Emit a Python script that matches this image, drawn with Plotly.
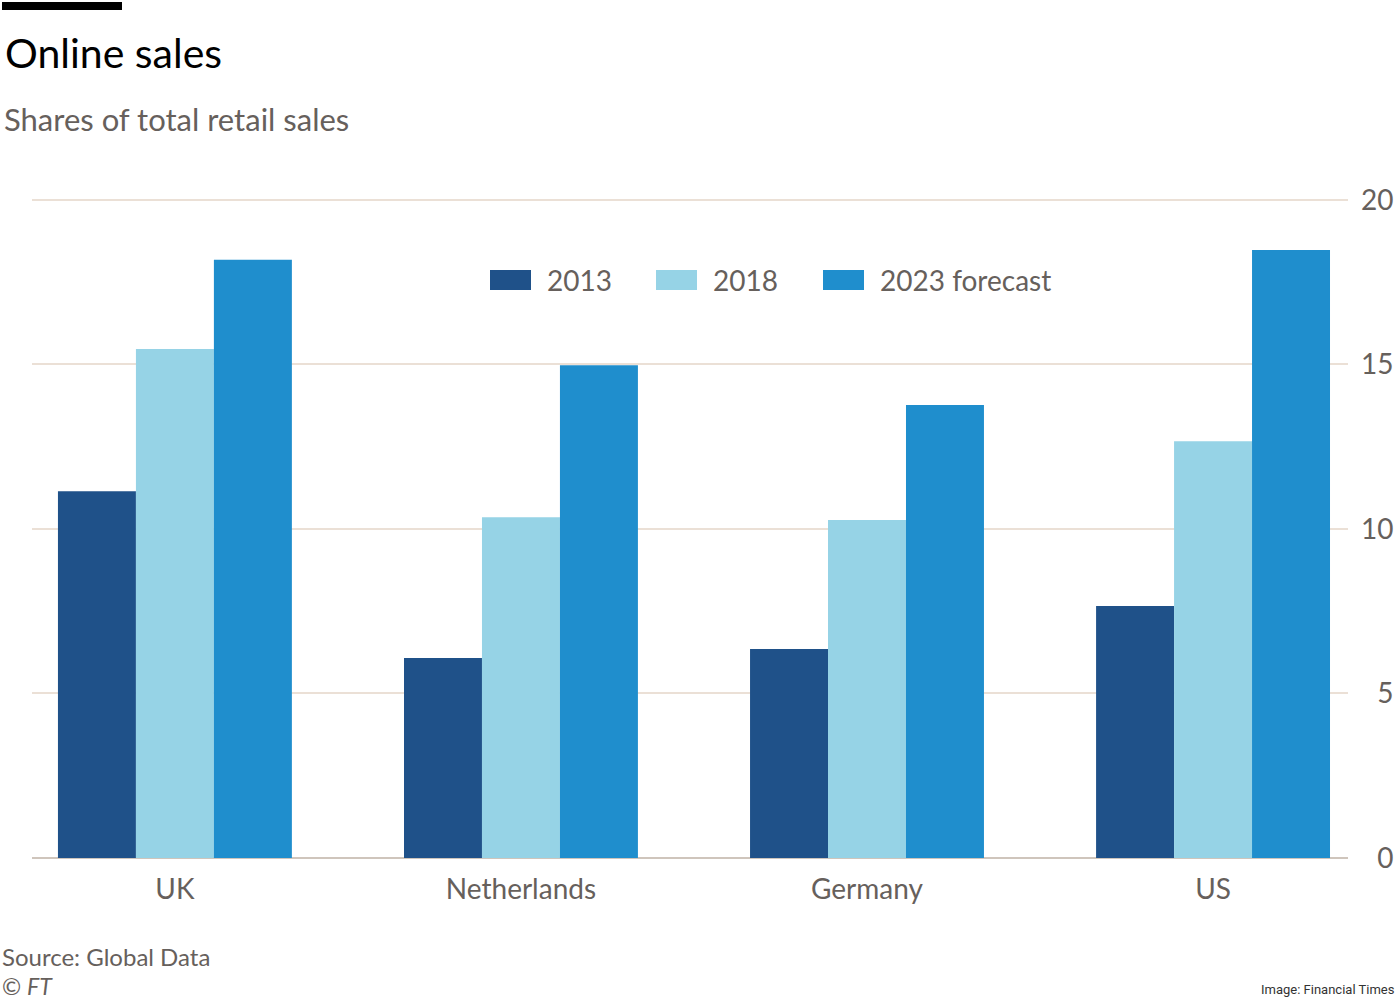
import plotly.graph_objects as go

countries = ["UK", "Netherlands", "Germany", "US"]
series_names = ["2013", "2018", "2023 forecast"]
v2013 = [11.15, 6.08, 6.35, 7.66]
v2018 = [15.47, 10.36, 10.27, 12.67]
v2023 = [18.18, 14.98, 13.77, 18.48]
colors = ["#1f5189", "#96d3e6", "#1f8ecd"]
ytick_vals = [0, 5, 10, 15, 20]
ytick_text = ["\u2007" + "0", "\u2007" + "5", "10", "15", "20"]

FONT = "Lato"
GREY = "#66605c"

W, H = 1400, 1001
L, R, T, B = 32, 52, 198, 143
PW, PH = W - L - R, H - T - B

def px(x):
    return (x - L) / PW

def py(y):
    return (H - B - y) / PH

fig = go.Figure()
for name, vals, col in zip(series_names, [v2013, v2018, v2023], colors):
    fig.add_trace(go.Bar(x=countries, y=vals, name=name, marker_color=col,
                         marker_line_width=0, showlegend=False))

fig.update_layout(
    width=W, height=H,
    margin=dict(l=L, r=R, t=T, b=B, autoexpand=False),
    paper_bgcolor="white", plot_bgcolor="white",
    barmode="group", bargap=0.324, bargroupgap=0,
    font=dict(family=FONT, color=GREY),
    showlegend=False,
)
fig.update_xaxes(range=[-0.413, 3.39], showgrid=False, showline=False,
                 ticks="", tickfont=dict(size=28, color=GREY, family=FONT),
                 ticklabelstandoff=12, automargin=False)
fig.update_yaxes(range=[0, 20.06], side="right", tickvals=ytick_vals, ticktext=ytick_text,
                 showgrid=True, gridcolor="#ebe0d6", gridwidth=2,
                 zeroline=True, zerolinecolor="#cfc5bc", zerolinewidth=2,
                 showline=False, ticks="", layer="below traces",
                 tickfont=dict(size=28, color=GREY, family=FONT),
                 ticklabelstandoff=12, automargin=False)

# Top black bar
fig.add_shape(type="rect", xref="paper", yref="paper",
              x0=px(2), x1=px(122), y0=py(10), y1=py(2),
              fillcolor="black", line_width=0)

# Title and subtitle
fig.add_annotation(text="Online sales", xref="paper", yref="paper",
                   x=px(3), y=py(52), xanchor="left", yanchor="middle",
                   showarrow=False, font=dict(size=41, color="black", family=FONT))
fig.add_annotation(text="Shares of total retail sales", xref="paper", yref="paper",
                   x=px(2), y=py(119), xanchor="left", yanchor="middle",
                   showarrow=False, font=dict(size=31, color=GREY, family=FONT))

# Custom legend
legend_items = [(490, series_names[0], colors[0]),
                (656, series_names[1], colors[1]),
                (823, series_names[2], colors[2])]
for lx, label, col in legend_items:
    fig.add_shape(type="rect", xref="paper", yref="paper",
                  x0=px(lx), x1=px(lx + 41), y0=py(290), y1=py(270),
                  fillcolor=col, line_width=0)
    fig.add_annotation(text=label, xref="paper", yref="paper",
                       x=px(lx + 55), y=py(280), xanchor="left", yanchor="middle",
                       showarrow=False, font=dict(size=28, color=GREY, family=FONT))

# Footer
fig.add_annotation(text="Source: Global Data", xref="paper", yref="paper",
                   x=px(0), y=py(956), xanchor="left", yanchor="middle",
                   showarrow=False, font=dict(size=24, color=GREY, family=FONT))
fig.add_annotation(text="© <i>FT</i>", xref="paper", yref="paper",
                   x=px(0), y=py(986), xanchor="left", yanchor="middle",
                   showarrow=False, font=dict(size=23, color=GREY, family=FONT))
fig.add_annotation(text="Image: Financial Times", xref="paper", yref="paper",
                   x=px(1397), y=py(989), xanchor="right", yanchor="middle",
                   showarrow=False, font=dict(size=13, color="#333333", family="Roboto"))

fig.write_html("out.html", config={"displayModeBar": False},
               post_script="document.body.style.margin='0px';")
